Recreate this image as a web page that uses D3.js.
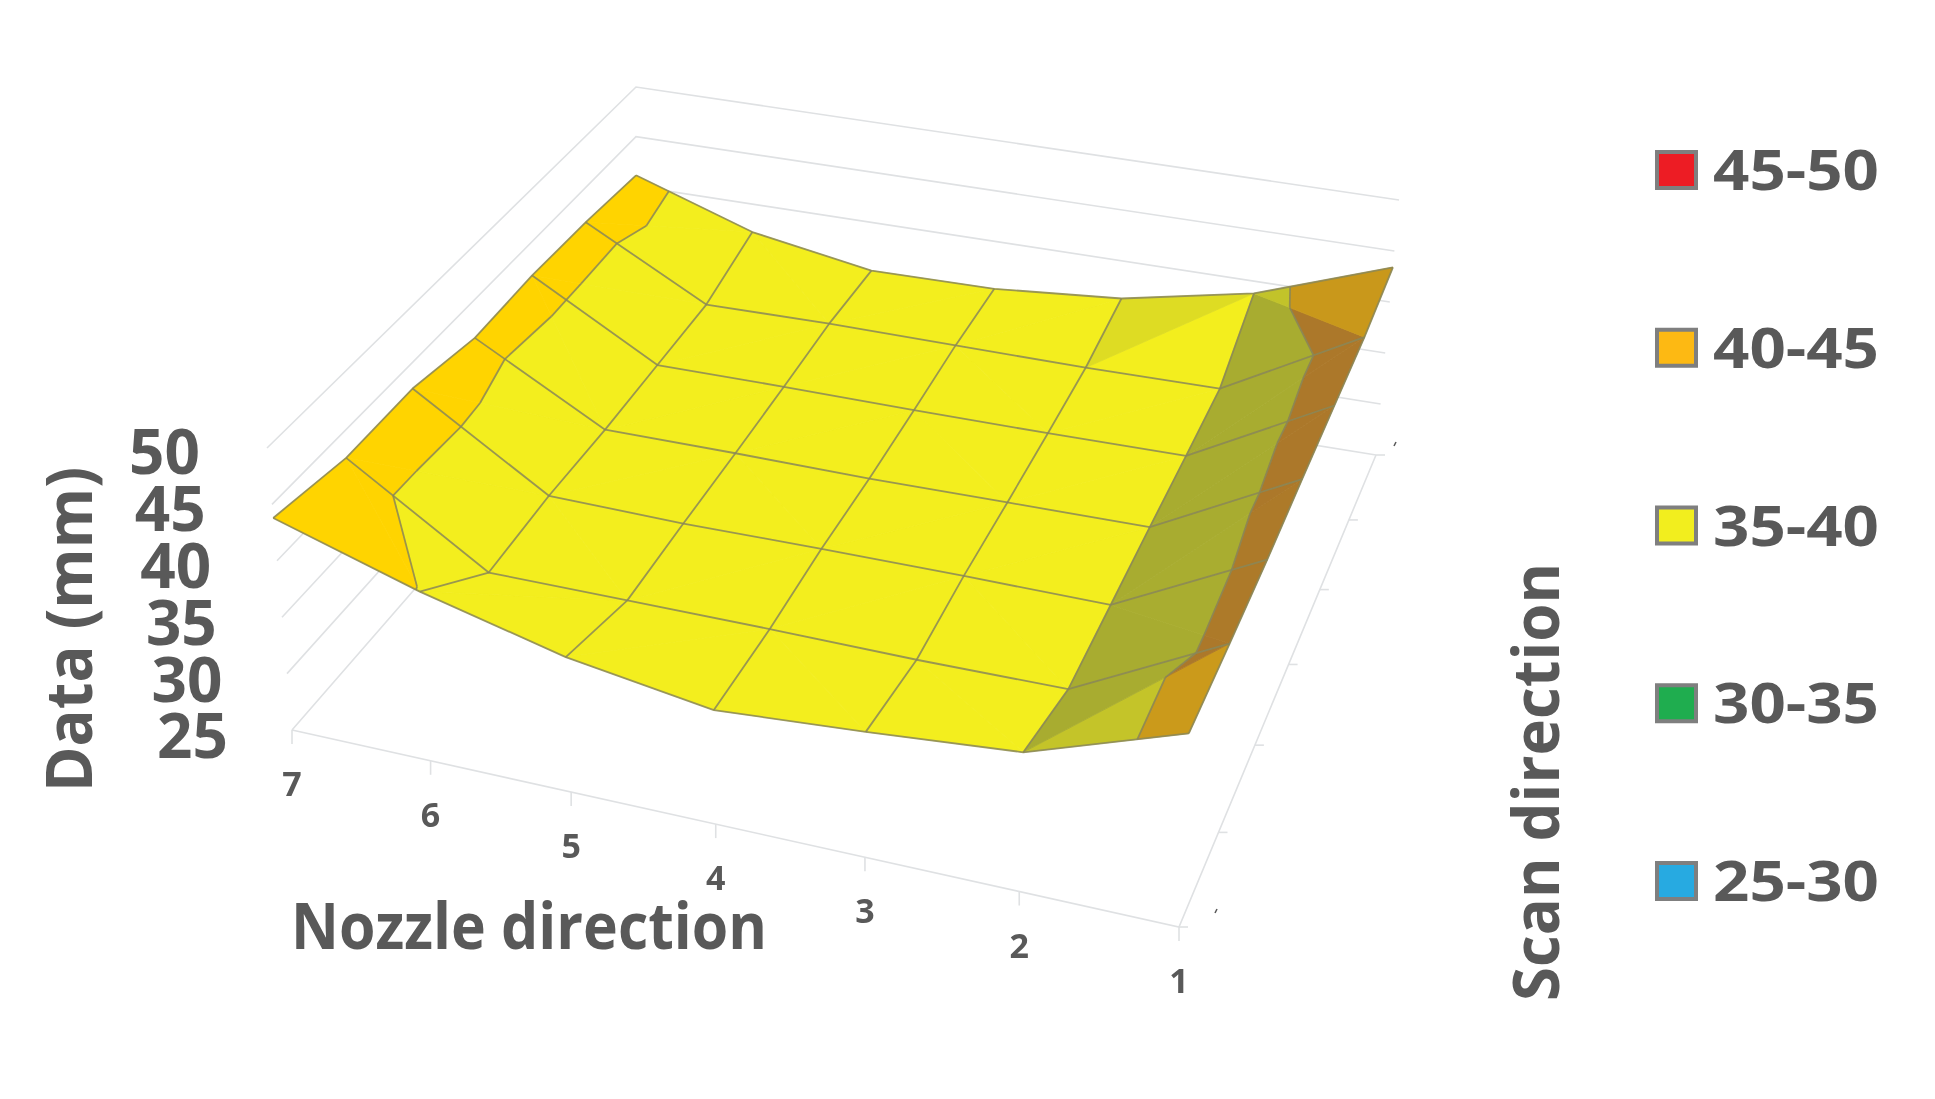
<!DOCTYPE html>
<html><head><meta charset="utf-8">
<script src="https://cdnjs.cloudflare.com/ajax/libs/d3/7.8.5/d3.min.js"></script>
<style>html,body{margin:0;padding:0;background:#fff}svg{display:block;filter:blur(0.7px)}text{font-family:"Open Sans",sans-serif;font-weight:700;fill:#595959}</style>
</head><body><svg id="c" width="1935" height="1099"></svg>
<script>
// ---- data ----
const nozzle = [7,6,5,4,3,2,1];
const scan = [1,2,3,4,5,6,7];
const zScan1 = [43.8,39.9,36.8,34.9,35.8,36.9,41.4];
const zScan2 = [42.6,34.7,34.7,34.7,34.6,34.7,41.4];
const zScan3 = [42.7,35.1,34.9,35.0,35.0,34.9,41.5];
const zScan4 = [41.5,35.0,35.0,34.9,35.0,35.1,41.9];
const zScan5 = [41.8,35.2,35.2,35.1,35.1,35.2,42.2];
const zScan6 = [41.6,35.4,35.5,35.4,35.3,35.4,42.5];
const zScan7 = [41.1,37.2,35.2,35.3,36.3,38.8,43.4];
const zTicks = [25,30,35,40,45,50];
const legendLabels = ["45-50","40-45","35-40","30-35","25-30"];
const legendColors = ["#ed1c24","#fdb913","#f2ee1e","#1fad4f","#27aae1"];
// surface band colours, lit and turned away from the light
const bandEdges = [25,30,34.4,40,45,50]; // lowest readings (about 34.6) sit in the 35-40 band
const bandLit = ["#27aae1","#1fad4f","#f3ee1e","#ffd400","#ed1c24"];
const bandDark = ["#1a7a9e","#157a38","#a8ac30","#ac782a","#a01318"];

const zRows = [zScan1,zScan2,zScan3,zScan4,zScan5,zScan6,zScan7];
const svg = d3.select("#c");

// ---- projection of the chart box ----
const floorC = [[292,730],[1179,927],[1376,455],[636,335]];
const topC   = [[267,448],[1194,632],[1399,200],[636,87]];
const vS = d3.scaleLinear().domain([1,7]).range([0,1]);
const zS = d3.scaleLinear().domain([25,50]).range([0,1]);
// slight warp of the nozzle spacing, strongest along the front edge
const uS = (n,v) => d3.scalePow().exponent(0.984+0.016*v).domain([0,1]).range([0,1])((7-n)/6);
function project(n,s,z){
  const t=zS(z),v=vS(s),u=uS(n,v);
  const P=floorC.map((p,k)=>[p[0]+(topC[k][0]-p[0])*t,p[1]+(topC[k][1]-p[1])*t]);
  const [x0,y0]=P[0],[x1,y1]=P[1],[x2,y2]=P[2],[x3,y3]=P[3];
  const dx1=x1-x2,dx2=x3-x2,sx=x0-x1+x2-x3,dy1=y1-y2,dy2=y3-y2,sy=y0-y1+y2-y3;
  const den=dx1*dy2-dx2*dy1,g=(sx*dy2-dx2*sy)/den,h=(dx1*sy-sx*dy1)/den;
  const w=g*u+h*v+1;
  return [((x1-x0+g*x1)*u+(x3-x0+h*x3)*v+x0)/w,((y1-y0+g*y1)*u+(y3-y0+h*y3)*v+y0)/w];
}
const line=d3.line();

// ---- walls ----
const wall=svg.append("g").attr("fill","none").attr("stroke","#dfe1e3").attr("stroke-width",1.6);
wall.selectAll("path.w").data(zTicks).join("path").attr("class","w")
  .attr("d",z=>line([project(7,1,z),project(7,7,z),project(1,7,z)]));
wall.append("path").attr("d",line([project(7,1,25),project(1,1,25),project(1,7,25)]));
wall.selectAll("path.tn").data(nozzle).join("path").attr("class","tn")
  .attr("d",n=>{const p=project(n,1,25);return line([p,[p[0],p[1]+14]]);});
wall.selectAll("path.ts").data(scan).join("path").attr("class","ts")
  .attr("d",s=>{const p=project(1,s,25);return line([p,[p[0]+9,p[1]]]);});
// clipped remnants of the scan-axis labels
svg.append("g").attr("stroke","#595959").attr("stroke-width",1.6).selectAll("path").data([1,7]).join("path")
  .attr("d",s=>{const p=project(1,s,25);const o=s===1?[36,-14]:[18,-9];return line([[p[0]+o[0],p[1]+o[1]],[p[0]+o[0]+2,p[1]+o[1]-4]]);});

// ---- surface ----
const V=(i,j)=>{const n=nozzle[i],s=scan[j],z=zRows[j][i];return {i,j,z,p:project(n,s,z)};};
const tris=[];
for(let j=scan.length-2;j>=0;j--)for(let i=0;i<nozzle.length-1;i++){
  const a=V(i,j),b=V(i+1,j),c=V(i+1,j+1),d=V(i,j+1);
  if(a.z+c.z>=b.z+d.z){tris.push([a,b,c],[a,c,d]);}else{tris.push([a,b,d],[b,c,d]);}
}
// slope across the nozzle axis gives the shading of a facet
function slopeU(t){
  const [a,b,c]=t;
  const ux=b.i-a.i,uy=b.j-a.j,vx=c.i-a.i,vy=c.j-a.j,dz1=b.z-a.z,dz2=c.z-a.z;
  return (dz1*vy-dz2*uy)/(ux*vy-vx*uy);
}
const shadeS=d3.scaleLinear().domain([1.3,2.5,4.6,6.7]).range([0,0.28,0.65,1]).clamp(true);
function clip(poly,lev,keepAbove){
  const out=[];
  poly.forEach((a,k)=>{
    const b=poly[(k+1)%poly.length];
    const ia=keepAbove?a.z>=lev:a.z<=lev, ib=keepAbove?b.z>=lev:b.z<=lev;
    if(ia)out.push(a);
    if(ia!==ib){const f=(lev-a.z)/(b.z-a.z);
      out.push({z:lev,p:[a.p[0]+(b.p[0]-a.p[0])*f,a.p[1]+(b.p[1]-a.p[1])*f]});}
  });
  return out;
}
const facets=[],contours=[];
tris.forEach(t=>{
  const s=shadeS(slopeU(t));
  d3.range(bandLit.length).forEach(b=>{
    let poly=clip(t,bandEdges[b],true);
    if(poly.length)poly=clip(poly,bandEdges[b+1],false);
    if(poly.length>2)facets.push({pts:poly.map(q=>q.p),col:d3.interpolateRgb(bandLit[b],bandDark[b])(s)});
  });
  bandEdges.forEach(lev=>{
    const seg=[];
    t.forEach((a,k)=>{const b=t[(k+1)%3];
      if((a.z-lev)*(b.z-lev)<0){const f=(lev-a.z)/(b.z-a.z);
        seg.push([a.p[0]+(b.p[0]-a.p[0])*f,a.p[1]+(b.p[1]-a.p[1])*f]);}});
    if(seg.length===2)contours.push(seg);
  });
});
const closed=d3.line().curve(d3.curveLinearClosed);
svg.append("g").selectAll("path").data(facets).join("path")
  .attr("d",f=>closed(f.pts)).attr("fill",f=>f.col).attr("stroke",f=>f.col).attr("stroke-width",0.8);
const mesh=svg.append("g").attr("fill","none").attr("stroke","#8a8758").attr("stroke-opacity",0.85).attr("stroke-width",1.8).attr("stroke-linejoin","round");
mesh.selectAll("path.c").data(contours).join("path").attr("class","c").attr("d",line);
mesh.selectAll("path.r").data(d3.range(scan.length)).join("path").attr("class","r")
  .attr("d",j=>line(nozzle.map((_,i)=>V(i,j).p)));
mesh.selectAll("path.n").data(d3.range(nozzle.length)).join("path").attr("class","n")
  .attr("d",i=>line(scan.map((_,j)=>V(i,j).p)));

// ---- text ----
const zLabY=d3.scaleLinear().domain([25,50]).range([736,452]);
const zLabX=d3.scaleLinear().domain([25,50]).range([228,200]);
svg.append("g").selectAll("text").data(zTicks).join("text")
  .attr("x",z=>zLabX(z)).attr("y",z=>zLabY(z)).attr("dy","0.36em")
  .attr("text-anchor","end").attr("font-size",62).text(z=>z);
svg.append("g").selectAll("text").data(nozzle).join("text")
  .attr("x",n=>project(n,1,25)[0]).attr("y",n=>project(n,1,25)[1]+54).attr("dy","0.36em")
  .attr("text-anchor","middle").attr("font-size",34).text(n=>n);
svg.append("text").attr("x",291).attr("y",949).attr("font-size",64)
  .attr("textLength",476).attr("lengthAdjust","spacingAndGlyphs").text("Nozzle direction");
svg.append("text").attr("transform","translate(92,792) rotate(-90)").attr("font-size",64)
  .attr("textLength",325).attr("lengthAdjust","spacingAndGlyphs").text("Data (mm)");
svg.append("text").attr("transform","translate(1559,1001) rotate(-90)").attr("font-size",64)
  .attr("textLength",438).attr("lengthAdjust","spacingAndGlyphs").text("Scan direction");

// ---- legend ----
const legY=d3.scalePoint().domain(legendLabels).range([170,881]);
const leg=svg.append("g").selectAll("g").data(legendLabels).join("g")
  .attr("transform",d=>`translate(0,${legY(d)})`);
leg.append("rect").attr("x",1657).attr("y",-18).attr("width",39).attr("height",36)
  .attr("fill",(d,i)=>legendColors[i]).attr("stroke","#7f7f7f").attr("stroke-width",4);
leg.append("text").attr("x",1713).attr("dy","0.36em").attr("font-size",56)
  .attr("textLength",166).attr("lengthAdjust","spacingAndGlyphs").text(d=>d);
</script></body></html>
